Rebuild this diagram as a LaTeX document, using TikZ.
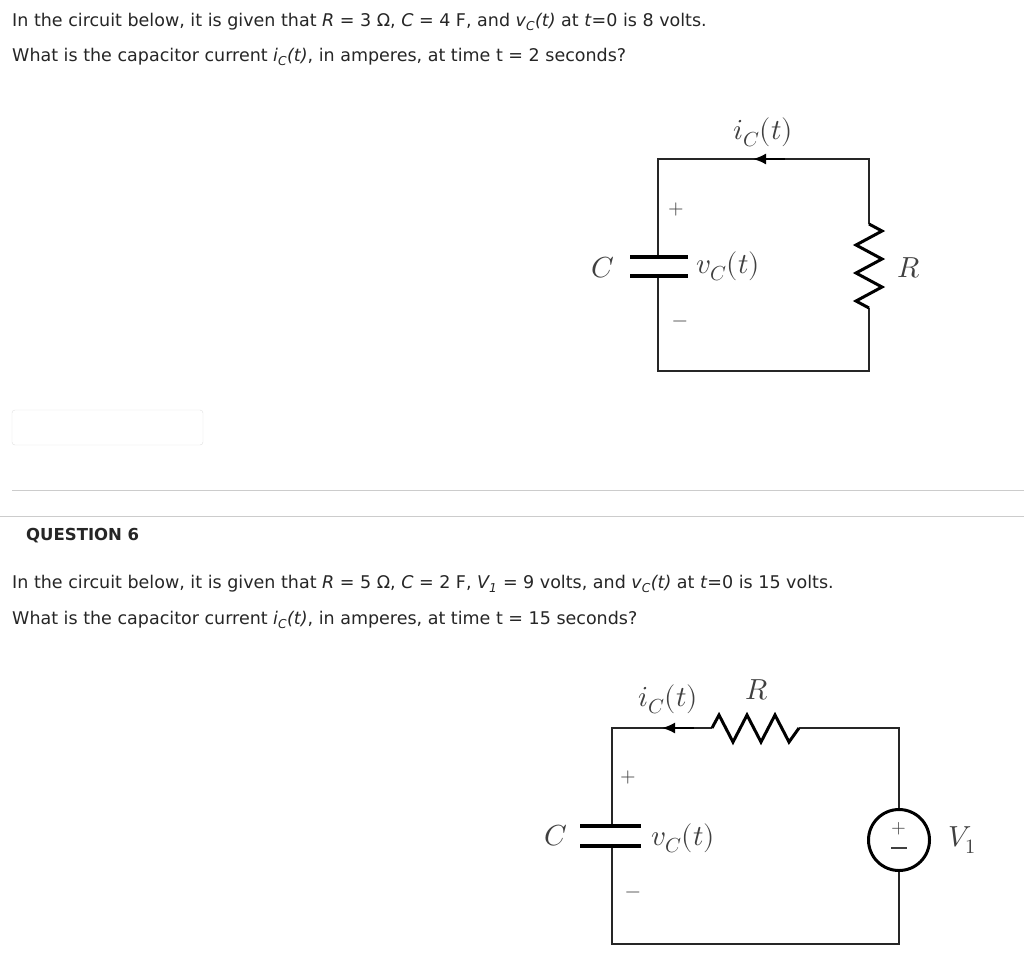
\documentclass[tikz,border=0pt]{standalone}
\usepackage{fontspec}
\setmainfont{DejaVu Sans}
\usepackage{unicode-math}
\setmathfont{Latin Modern Math}
\usetikzlibrary{arrows.meta}
\begin{document}
\begin{tikzpicture}[x=1pt,y=-1pt,
  wire/.style={line width=1.9pt,black!85},
  plate/.style={line width=4.5pt},
  zig/.style={line width=3pt,line join=miter},
  body/.style={anchor=west,inner sep=0pt,font=\fontsize{17.5}{20}\selectfont,text=black!85},
  lbl/.style={inner sep=0pt,font=\fontsize{29}{34}\selectfont,text=black!75},
  pm/.style={inner sep=0pt,font=\fontsize{20}{22}\selectfont,text=black!75},
  arr/.style={-{Latex[length=13pt,width=11pt]},line width=1.9pt}]
\useasboundingbox (0,0) rectangle (1024,959);
\fill[white] (0,0) rectangle (1024,959);
% texts
\node[body] (t1) at (12,22) {In the circuit below, it is given that \textit{R} = 3 Ω, \textit{C} = 4 F, and \textit{v\textsubscript{C}(t)} at \textit{t}=0 is 8 volts.};
\node[body] (t2) at (12,57) {What is the capacitor current \textit{i\textsubscript{C}(t)}, in amperes, at time t = 2 seconds?};
\node[body,font=\fontsize{16.5}{18}\selectfont\bfseries] (q6) at (26,536) {QUESTION 6};
\node[body] (t3) at (12,584) {In the circuit below, it is given that \textit{R} = 5 Ω, \textit{C} = 2 F, \textit{V\textsubscript{1}} = 9 volts, and \textit{v\textsubscript{C}(t)} at \textit{t}=0 is 15 volts.};
\node[body] (t4) at (12,620) {What is the capacitor current \textit{i\textsubscript{C}(t)}, in amperes, at time t = 15 seconds?};
\draw[black!12,rounded corners=3pt] (12,410) rectangle (203,445);
\draw[black!20] (12,490) -- (1024,490);
\draw[black!20] (0,516) -- (1024,516);
% circuit 1
\coordinate (a1) at (658,159); \coordinate (b1) at (869,159);
\coordinate (c1) at (869,371); \coordinate (d1) at (658,371);
\draw[wire] (658,257) -- (a1) -- (b1) -- (869,224);
\draw[wire] (869,308) -- (c1) -- (d1) -- (658,276);
\draw[arr] (785,159) -- (753,159);
\draw[plate] (630,257) -- (688,257) (630,276) -- (688,276);
\draw[zig] (869,224) -- (882,231) -- (856,245) -- (882,259) -- (856,273) -- (882,287) -- (856,301) -- (869,308);
\node[lbl] (ic1) at (763,132) {$i_C(t)$};
\node[pm] (p1) at (676,209) {$+$};
\node[pm] (m1) at (680,324) {$-$};
\node[lbl] (C1) at (603,268) {$C$};
\node[lbl] (v1) at (728,266) {$v_C(t)$};
\node[lbl] (R1) at (909,268) {$R$};
% circuit 2
\coordinate (a2) at (612,728); \coordinate (b2) at (899,728);
\coordinate (c2) at (899,944); \coordinate (d2) at (612,944);
\draw[wire] (612,826) -- (a2) -- (712,728);
\draw[wire] (799,728) -- (b2) -- (899,809);
\draw[wire] (899,871) -- (c2) -- (d2) -- (612,846);
\draw[arr] (694,728) -- (662,728);
\draw[plate] (580,826) -- (641,826) (580,846) -- (641,846);
\draw[zig] (712,728) -- (719,715) -- (733,742) -- (747,715) -- (761,742) -- (775,715) -- (789,742) -- (799,728);
\node[draw,circle,line width=3pt,minimum size=61pt,inner sep=0pt] (V) at (899,840) {};
\node[pm,font=\fontsize{19}{20}\selectfont] at (899,829) {$+$};
\draw[line width=1.2pt,black!75] (891,848) -- (907,848);
\node[lbl] (ic2) at (668,699) {$i_C(t)$};
\node[lbl] (R2) at (757,690) {$R$};
\node[pm] (p2) at (628,777) {$+$};
\node[pm] (m2) at (633,895) {$-$};
\node[lbl] (C2) at (556,836) {$C$};
\node[lbl] (v2) at (683,838) {$v_C(t)$};
\node[lbl] (V1) at (962,840) {$V_1$};
\end{tikzpicture}
\end{document}
